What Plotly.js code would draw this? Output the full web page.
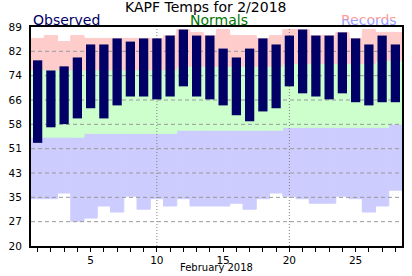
<!DOCTYPE html>
<html>
<head>
<meta charset="utf-8">
<script src="https://cdn.plot.ly/plotly-3.0.1.min.js"></script>
<style>
  html, body { margin: 0; padding: 0; background: #fff; }
  #chart { width: 412px; height: 276px; }
</style>
</head>
<body>
<div id="chart"></div>
<script>
// February 2018 daily temps
const days = [1, 2, 3, 4, 5, 6, 7, 8, 9, 10, 11, 12, 13, 14, 15, 16, 17, 18, 19, 20, 21, 22, 23, 24, 25, 26, 27, 28];

const obsHigh = [78.5, 75.3, 76.6, 79.4, 83.5, 83.5, 85.4, 84.4, 85.4, 85.4, 86.3, 88.2, 86.3, 86.3,
                 82.2, 79.4, 82.2, 85.4, 83.5, 86.3, 88.2, 86.3, 86.3, 87.3, 85.4, 83.5, 86.3, 83.5];
const obsLow = [52.5, 57.4, 58.4, 60.2, 63.4, 60.2, 64.3, 67.1, 67.1, 66.2, 67.1, 70.3, 67.1, 66.2,
                64.3, 61.2, 59.3, 62.4, 63.4, 70.3, 68.1, 67.1, 66.2, 68.1, 65.3, 64.3, 65.3, 65.3];

const recHigh = [85.4, 86.3, 84.4, 86.3, 85.4, 85.4, 85.4, 85.4, 85.4, 85.4, 86.3, 88.2, 87.3, 86.3,
                 88.2, 86.3, 86.3, 85.4, 86.3, 88.2, 88.2, 86.3, 86.3, 87.3, 85.4, 88.2, 87.3, 87.3];
const normHigh = [75.5, 75.5, 75.5, 75.5, 75.5, 75.5, 75.5, 75.5, 75.5, 75.5, 75.5, 76.6, 76.6, 76.6,
                  76.6, 76.6, 76.6, 76.6, 76.6, 77.5, 77.5, 77.5, 77.5, 77.5, 77.5, 77.5, 78.5, 78.5];
const normLow = [54.3, 54.3, 54.3, 54.3, 55.5, 55.5, 55.5, 55.5, 55.5, 55.5, 55.5, 56.5, 56.5, 56.5,
                 56.5, 56.5, 56.5, 56.5, 56.5, 57.4, 57.4, 57.4, 57.4, 57.4, 57.4, 57.4, 57.4, 58.4];
const recLow = [34.9, 34.9, 36.7, 27.8, 28.8, 32.6, 30.7, 35.7, 31.6, 34.9, 32.6, 34.9, 32.6, 32.6,
                32.6, 33.5, 31.6, 34.9, 36.7, 35.7, 34.9, 33.5, 33.5, 35.7, 34.9, 30.7, 32.6, 37.6];

const yTickText = ['20', '27', '35', '43', '51', '58', '66', '74', '82', '89'];
const xLabelDays = [5, 10, 15, 20, 25];
const dottedDays = [10, 20];

const yMin = 20, yMax = 89;
const xRange = [0.5, 28.5];
const yTickVals = yTickText.map((_, i) => yMin + i * (yMax - yMin) / (yTickText.length - 1));
const xTickText = days.map(d => xLabelDays.includes(d) ? String(d) : '');

const font = 'DejaVu Sans, Verdana, sans-serif';

function band(lo, hi, color) {
  return {
    type: 'bar',
    x: days,
    base: lo,
    y: hi.map((v, i) => v - lo[i]),
    width: 1,
    marker: { color: color, line: { color: color, width: 1 } },
    hoverinfo: 'skip',
    showlegend: false
  };
}

// dashed horizontal grid + dotted verticals, drawn above the bands but under the observed bars
const gridX = [], gridY = [];
yTickVals.slice(1, -1).forEach(v => { gridX.push(xRange[0], xRange[1], null); gridY.push(v, v, null); });
const dotX = [], dotY = [];
dottedDays.forEach(d => { dotX.push(d, d, null); dotY.push(yMin, yMax, null); });

const traces = [
  band(recLow, normLow, '#ccccff'),
  band(normLow, normHigh, '#ccffcc'),
  band(normHigh, recHigh, '#ffcccc'),
  {
    x: gridX, y: gridY, mode: 'lines', type: 'scatter',
    line: { color: '#999999', width: 1, dash: '4px,3px' },
    hoverinfo: 'skip', showlegend: false
  },
  {
    x: dotX, y: dotY, mode: 'lines', type: 'scatter',
    line: { color: '#808080', width: 1, dash: '1px,2px' },
    hoverinfo: 'skip', showlegend: false
  },
  {
    type: 'bar',
    x: days,
    base: obsLow,
    y: obsHigh.map((v, i) => v - obsLow[i]),
    width: 0.7,
    xaxis: 'x2',
    yaxis: 'y2',
    marker: { color: '#000066' },
    hoverinfo: 'skip',
    showlegend: false
  }
];

const layout = {
  width: 412,
  height: 276,
  margin: { l: 31, r: 10, t: 27, b: 30 },
  paper_bgcolor: '#ffffff',
  plot_bgcolor: '#ffffff',
  barmode: 'overlay',
  font: { family: font, size: 10.5, color: '#000000' },
  xaxis: {
    range: xRange,
    tickvals: days,
    ticktext: xTickText,
    ticks: 'outside',
    ticklen: 4,
    tickcolor: '#000000',
    ticklabelstandoff: -1,
    showgrid: false,
    zeroline: false,
    showline: true,
    linecolor: '#000000',
    linewidth: 2,
    mirror: true,
    layer: 'above traces'
  },
  yaxis: {
    range: [yMin, yMax],
    tickvals: yTickVals,
    ticktext: yTickText,
    ticks: '',
    showgrid: false,
    zeroline: false,
    showline: true,
    linecolor: '#000000',
    linewidth: 2,
    mirror: true,
    layer: 'above traces',
    ticklabelstandoff: 5
  },
  xaxis2: { overlaying: 'x', range: xRange, visible: false },
  yaxis2: { overlaying: 'y', range: [yMin, yMax], visible: false },
  annotations: [
    { text: 'KAPF Temps for 2/2018', xref: 'paper', yref: 'paper', x: 0.471, y: 1.093,
      xanchor: 'center', yanchor: 'middle', showarrow: false, font: { size: 14, color: '#000000' } },
    { text: 'Observed', xref: 'paper', yref: 'paper', x: 0, y: 1.033,
      xanchor: 'left', yanchor: 'middle', showarrow: false, font: { size: 14, color: '#000066' } },
    { text: 'Normals', xref: 'paper', yref: 'paper', x: 0.508, y: 1.033,
      xanchor: 'center', yanchor: 'middle', showarrow: false, font: { size: 14, color: '#007700' } },
    { text: 'Records', xref: 'paper', yref: 'paper', x: 0.992, y: 1.033,
      xanchor: 'right', yanchor: 'middle', showarrow: false, font: { size: 14, color: '#bb99f0' } },
    { text: 'February 2018', xref: 'paper', yref: 'paper', x: 0.5, y: -0.1,
      xanchor: 'center', yanchor: 'middle', showarrow: false, font: { size: 10 } }
  ]
};

Plotly.newPlot('chart', traces, layout, { displayModeBar: false, staticPlot: true }).then(gd => {
  // "Records" label fades from pink to lavender like the original
  const svg = gd.querySelector('svg.main-svg');
  const ns = 'http://www.w3.org/2000/svg';
  let defs = svg.querySelector('defs');
  if (!defs) { defs = document.createElementNS(ns, 'defs'); svg.insertBefore(defs, svg.firstChild); }
  const grad = document.createElementNS(ns, 'linearGradient');
  grad.setAttribute('id', 'recGrad');
  grad.setAttribute('x1', '0'); grad.setAttribute('y1', '0');
  grad.setAttribute('x2', '0'); grad.setAttribute('y2', '1');
  [['0', '#ff9999'], ['0.42', '#ff9999'], ['0.5', '#9999ff'], ['1', '#9999ff']].forEach(([o, c]) => {
    const s = document.createElementNS(ns, 'stop');
    s.setAttribute('offset', o); s.setAttribute('stop-color', c);
    grad.appendChild(s);
  });
  defs.appendChild(grad);
  gd.querySelectorAll('.annotation-text').forEach(t => {
    if (t.textContent === 'Records') t.style.fill = 'url(#recGrad)';
  });
});
</script>
</body>
</html>
